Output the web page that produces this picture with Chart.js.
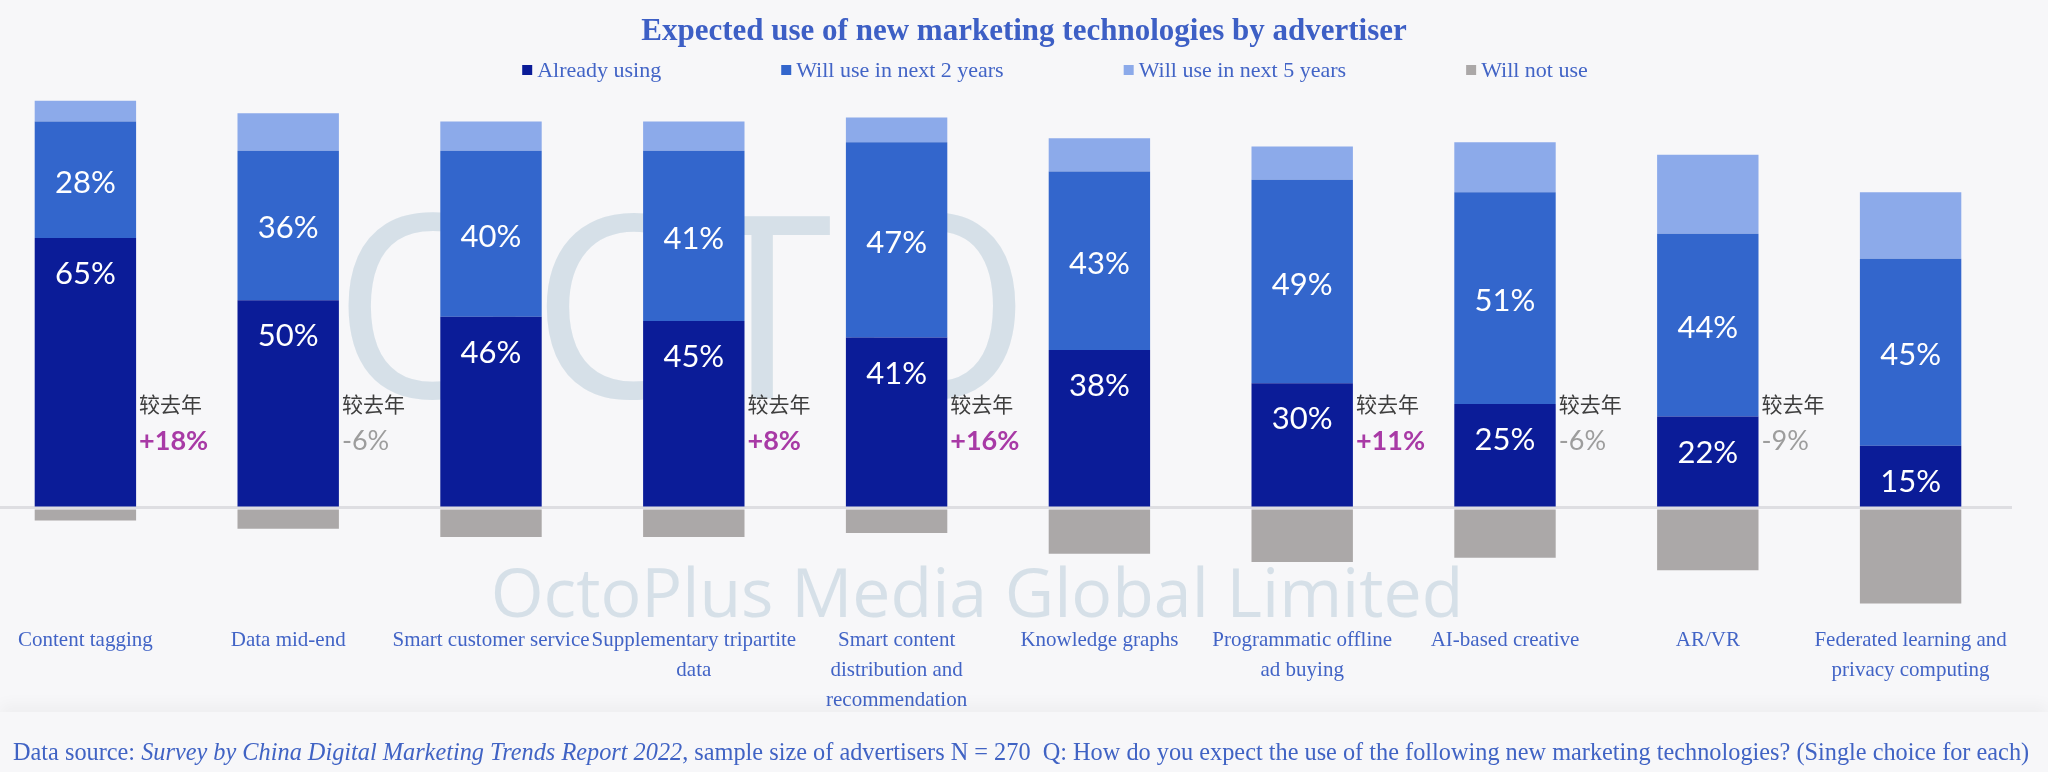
<!DOCTYPE html>
<html>
<head>
<meta charset="utf-8">
<script src="https://cdn.jsdelivr.net/npm/chart.js@4.4.1/dist/chart.umd.min.js"></script>
<style>
  html, body { margin: 0; padding: 0; background: #f7f7f9; }
  body { width: 2048px; height: 772px; position: relative; overflow: hidden; }
  #chartWrap { position: absolute; left: -16px; top: 0; width: 2080px; height: 724px; }
  #footer {
    position: absolute; left: 0; top: 712px; width: 2048px; height: 60px;
    background: #f7f7f9; box-shadow: 0 -8px 14px rgba(0, 0, 0, 0.035);
    font-family: 'Liberation Serif', serif; font-size: 24.3px; color: #4063c4;
    line-height: 24px; padding: 28px 0 0 13px; box-sizing: border-box; white-space: nowrap;
  }
</style>
</head>
<body>
<div id="chartWrap"><canvas id="techChart" width="2080" height="724"></canvas></div>
<div id="footer">Data source: <i>Survey by China Digital Marketing Trends Report 2022</i>, sample size of advertisers N = 270&nbsp; Q: How do you expect the use of the following new marketing technologies? (Single choice for each)</div>

<script>
// Categories (multi-line ones as arrays)
const categories = [
    'Content tagging',
    'Data mid-end',
    'Smart customer service',
    ['Supplementary tripartite', 'data'],
    ['Smart content', 'distribution and', 'recommendation'],
    'Knowledge graphs',
    ['Programmatic offline', 'ad buying'],
    'AI-based creative',
    'AR/VR',
    ['Federated learning and', 'privacy computing']
];

// Series values in %
const alreadyUsing = [65, 50, 46, 45, 41, 38, 30, 25, 22, 15];
const next2Years   = [28, 36, 40, 41, 47, 43, 49, 51, 44, 45];
const next5Years   = [5, 9, 7, 7, 6, 8, 8, 12, 19, 16];
const willNotUse   = [3, 5, 7, 7, 6, 11, 13, 12, 15, 23];

// Change of "already using" vs last year (null = not shown)
const yoyChange = ['+18%', '-6%', null, '+8%', '+16%', null, '+11%', '-6%', '-9%', null];

const seriesNames = ['Already using', 'Will use in next 2 years', 'Will use in next 5 years', 'Will not use'];
const seriesColors = ['#0b1c98', '#3366cc', '#8caaea', '#aba8a8'];

const titleText = 'Expected use of new marketing technologies by advertiser';
const textBlue = '#4264c6';

// Faint logo watermark behind the bars
const watermarkPlugin = {
    id: 'watermark',
    beforeDatasetsDraw(chart) {
        const ctx = chart.ctx;
        ctx.save();
        ctx.fillStyle = '#d6e0e8';
        ctx.textBaseline = 'alphabetic';
        ctx.textAlign = 'left';
        ctx.font = '255px "Open Sans"';
        ctx.fillText('OCTO', 349, 398);
        ctx.font = '68px "Open Sans"';
        ctx.textAlign = 'center';
        ctx.textBaseline = 'middle';
        ctx.fillText('OctoPlus Media Global Limited', 993, 598);
        ctx.restore();
    }
};

// Value labels inside the bars and year-on-year notes beside them
const barLabelPlugin = {
    id: 'barLabels',
    afterDatasetsDraw(chart) {
        const ctx = chart.ctx;
        const yScale = chart.scales.y;
        ctx.save();
        ctx.fillStyle = '#ffffff';
        ctx.font = '31px Lato';
        ctx.textAlign = 'center';
        ctx.textBaseline = 'middle';

        chart.getDatasetMeta(0).data.forEach((bar, i) => {
            ctx.fillText(alreadyUsing[i] + '%', bar.x, bar.y + 36);
        });
        chart.getDatasetMeta(1).data.forEach((bar, i) => {
            ctx.fillText(next2Years[i] + '%', bar.x, (bar.y + bar.base) / 2 + 3);
        });

        ctx.textAlign = 'left';
        chart.getDatasetMeta(0).data.forEach((bar, i) => {
            const change = yoyChange[i];
            if (!change) return;
            const x = bar.x + bar.width / 2 + 3;
            ctx.font = '21px "Noto Sans CJK SC"';
            ctx.fillStyle = '#3e3e3e';
            ctx.fillText('较去年', x, yScale.getPixelForValue(24.9));
            const up = change.charAt(0) === '+';
            ctx.font = (up ? 'bold ' : '') + '27px Lato';
            ctx.fillStyle = up ? '#a83aa6' : '#9d9d9d';
            ctx.fillText(change, x, yScale.getPixelForValue(16.0));
        });
        ctx.restore();
    }
};

// Title and legend row, drawn on top
const headerPlugin = {
    id: 'header',
    afterDraw(chart) {
        const ctx = chart.ctx;
        ctx.save();
        ctx.textBaseline = 'middle';
        ctx.textAlign = 'center';
        ctx.fillStyle = '#3d5fc5';
        ctx.font = 'bold 31px "Liberation Serif"';
        ctx.fillText(titleText, chart.width / 2, 32);

        // legend
        ctx.font = '22px "Liberation Serif"';
        const box = 10, boxGap = 5, itemGap = 120;
        const widths = seriesNames.map(n => box + boxGap + ctx.measureText(n).width);
        const total = widths.reduce((a, b) => a + b, 0) + itemGap * (widths.length - 1);
        let x = chart.width / 2 + 31 - total / 2;
        const y = 70;
        ctx.textAlign = 'left';
        seriesNames.forEach((name, i) => {
            ctx.fillStyle = seriesColors[i];
            ctx.fillRect(x, y - box / 2, box, box);
            ctx.fillStyle = textBlue;
            ctx.fillText(name, x + box + boxGap, y + 1);
            x += widths[i] + itemGap;
        });
        ctx.restore();
    }
};

const ctx = document.getElementById('techChart').getContext('2d');
new Chart(ctx, {
    type: 'bar',
    data: {
        labels: categories,
        datasets: [
            { label: seriesNames[0], data: alreadyUsing, backgroundColor: seriesColors[0] },
            { label: seriesNames[1], data: next2Years, backgroundColor: seriesColors[1] },
            { label: seriesNames[2], data: next5Years, backgroundColor: seriesColors[2] },
            { label: seriesNames[3], data: willNotUse.map(v => -v), backgroundColor: seriesColors[3] }
        ]
    },
    options: {
        responsive: false,
        animation: false,
        layout: { padding: { left: 0, right: 52, top: 80, bottom: 0 } },
        datasets: { bar: { categoryPercentage: 0.5, barPercentage: 1, borderWidth: 0 } },
        scales: {
            x: {
                stacked: true,
                offset: true,
                grid: { display: false, drawTicks: false },
                border: { display: false },
                ticks: {
                    autoSkip: false,
                    maxRotation: 0,
                    minRotation: 0,
                    padding: 9,
                    color: textBlue,
                    font: { family: 'Liberation Serif', size: 21, lineHeight: 30 / 21 }
                }
            },
            y: {
                stacked: true,
                min: -26,
                max: 103,
                z: 1,
                border: { display: false },
                ticks: { display: false },
                grid: {
                    drawTicks: false,
                    lineWidth: 3,
                    color: (c) => (c.tick && c.tick.value === 0 ? '#dedee2' : 'rgba(0,0,0,0)')
                }
            }
        },
        plugins: {
            legend: { display: false },
            tooltip: { enabled: false },
            title: { display: false }
        }
    },
    plugins: [watermarkPlugin, barLabelPlugin, headerPlugin]
});
</script>
</body>
</html>
